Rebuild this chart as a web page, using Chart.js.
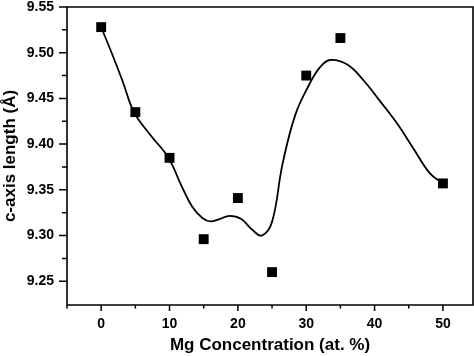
<!DOCTYPE html>
<html>
<head>
<meta charset="utf-8">
<script src="https://cdn.jsdelivr.net/npm/chart.js@4.4.1/dist/chart.umd.min.js"></script>
<style>
html,body{margin:0;padding:0;background:#fff;}
#wrap{width:474px;height:356px;}
</style>
</head>
<body>
<div id="wrap"><canvas id="c" width="474" height="356"></canvas></div>
<script>
// Measured data (Mg concentration at.% vs c-axis length Å)
const mgConc = [0, 5, 10, 15, 20, 25, 30, 35, 50];
const cAxis = [9.528, 9.435, 9.385, 9.296, 9.341, 9.260, 9.475, 9.516, 9.357];

// Fitted curve
const fitX = [0, 1.6, 3.1, 4.8, 7.2, 9.8, 11.8, 13.3, 14.8, 16, 17.3, 18.8, 20.5, 22, 23.5, 25, 26.5, 28.4, 30.5, 32, 33.5, 36, 38.4, 40.8, 43.3, 45.7, 48.1, 50];
const fitY = [9.528, 9.4986, 9.4696, 9.435, 9.410, 9.3855, 9.3536, 9.3318, 9.3192, 9.3155, 9.318, 9.3215, 9.318, 9.307, 9.300, 9.315, 9.377, 9.432, 9.466, 9.484, 9.492, 9.487, 9.4696, 9.447, 9.4225, 9.395, 9.368, 9.357];

// Tick labels
const xTicks = [0, 10, 20, 30, 40, 50];
const xMinor = [-5, 5, 15, 25, 35, 45];
const yTicks = [9.25, 9.30, 9.35, 9.40, 9.45, 9.50, 9.55];
const yMinor = [9.275, 9.325, 9.375, 9.425, 9.475, 9.525];

const FONT = "'Liberation Sans', Arial, Helvetica, sans-serif";

const framePlugin = {
  id: 'frame',
  afterDraw(chart) {
    const ctx = chart.ctx, a = chart.chartArea;
    const xs = chart.scales.x, ys = chart.scales.y;
    ctx.save();
    ctx.strokeStyle = '#000';
    ctx.lineWidth = 1.6;
    ctx.beginPath();
    ctx.moveTo(a.left, a.bottom);
    ctx.lineTo(a.left, a.top);
    ctx.lineTo(a.right, a.top);
    ctx.lineTo(a.right, a.bottom);
    ctx.lineTo(a.left, a.bottom);
    ctx.stroke();
    ctx.lineWidth = 1.5;
    ctx.beginPath();
    xTicks.forEach(v => { const p = xs.getPixelForValue(v); ctx.moveTo(p, a.bottom); ctx.lineTo(p, a.bottom + 6); });
    xMinor.forEach(v => { const p = xs.getPixelForValue(v); ctx.moveTo(p, a.bottom); ctx.lineTo(p, a.bottom + 3.5); });
    yTicks.forEach(v => { const p = ys.getPixelForValue(v); ctx.moveTo(a.left, p); ctx.lineTo(a.left - 8, p); });
    yMinor.forEach(v => { const p = ys.getPixelForValue(v); ctx.moveTo(a.left, p); ctx.lineTo(a.left - 5, p); });
    ctx.stroke();
    ctx.restore();
  }
};

new Chart(document.getElementById('c'), {
  type: 'scatter',
  data: {
    datasets: [
      {
        label: 'data',
        data: mgConc.map((x, i) => ({x: x, y: cAxis[i]})),
        pointStyle: 'rect',
        pointRadius: 7,
        pointHoverRadius: 7,
        backgroundColor: '#000',
        borderColor: '#000',
        borderWidth: 0,
        showLine: false,
        order: 1
      },
      {
        label: 'fit',
        data: fitX.map((x, i) => ({x: x, y: fitY[i]})),
        showLine: true,
        pointRadius: 0,
        borderColor: '#000',
        borderWidth: 1.8,
        tension: 0.4,
        fill: false,
        order: 2
      }
    ]
  },
  options: {
    responsive: false,
    animation: false,
    devicePixelRatio: 1,
    layout: { autoPadding: false, padding: { top: 7, right: 1, left: 0, bottom: 0 } },
    plugins: { legend: { display: false }, tooltip: { enabled: false } },
    scales: {
      x: {
        type: 'linear',
        min: -5,
        max: 54.4,
        afterBuildTicks(s) { s.ticks = xTicks.map(v => ({value: v})); },
        afterFit(s) { s.height = 51; s.paddingLeft = 0; s.paddingRight = 0; },
        border: { display: false },
        grid: { display: false, drawTicks: false },
        ticks: {
          color: '#000',
          padding: 11,
          maxRotation: 0,
          autoSkip: false,
          font: { family: FONT, size: 14, weight: 'bold' },
          callback: v => String(v)
        },
        title: {
          display: true,
          text: 'Mg Concentration (at. %)',
          color: '#000',
          font: { family: FONT, size: 17, weight: 'bold' },
          padding: { top: 0, bottom: 0 }
        }
      },
      y: {
        type: 'linear',
        min: 9.224,
        max: 9.55,
        afterBuildTicks(s) { s.ticks = yTicks.map(v => ({value: v})); },
        afterFit(s) { s.width = 67; s.paddingTop = 0; s.paddingBottom = 0; },
        border: { display: false },
        grid: { display: false, drawTicks: false },
        ticks: {
          color: '#000',
          padding: 13,
          autoSkip: false,
          font: { family: FONT, size: 14, weight: 'bold' },
          callback: v => v.toFixed(2)
        },
        title: {
          display: true,
          text: 'c-axis length (Å)',
          color: '#000',
          font: { family: FONT, size: 17, weight: 'bold' },
          padding: { top: 0, bottom: 0 }
        }
      }
    }
  },
  plugins: [framePlugin]
});
</script>
</body>
</html>
